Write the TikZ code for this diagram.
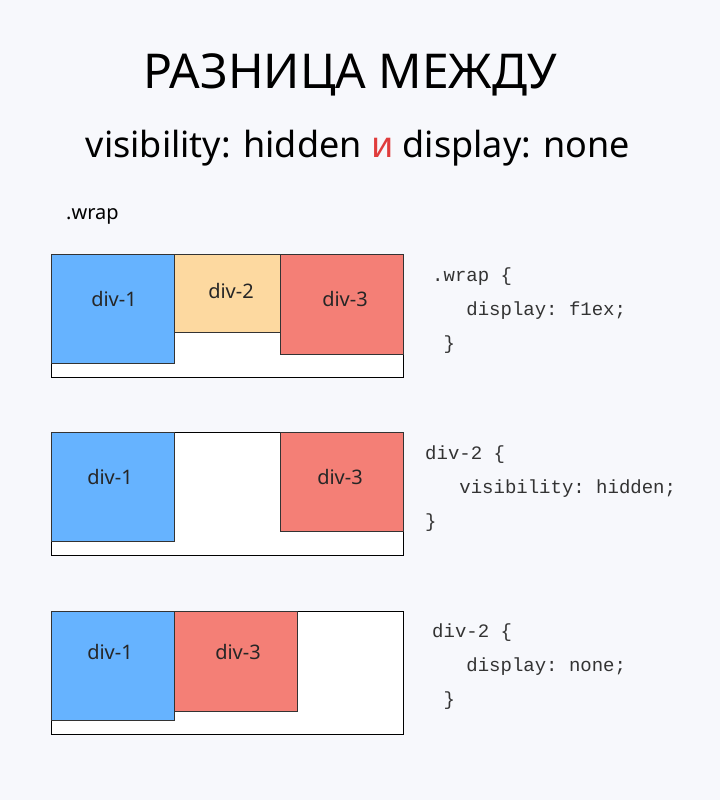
\documentclass[tikz,border=0pt]{standalone}
\usepackage{fontspec}
\setmainfont{Noto Sans}
\setmonofont{Liberation Mono}
\begin{document}
\begin{tikzpicture}[x=1pt,y=-1pt,
  wrapbox/.style={draw=black,line width=1pt,fill=white},
  cell/.style={draw=black!80,line width=0.8pt},
  lbl/.style={font=\fontsize{20}{24}\selectfont,text=black!85},
  code/.style={font=\ttfamily\fontsize{19}{34}\selectfont,align=left,anchor=north west,text=black!80,inner sep=0}]
\definecolor{bg}{HTML}{F7F8FC}
\definecolor{cblue}{HTML}{66B3FF}
\definecolor{cyel}{HTML}{FDD9A0}
\definecolor{cred}{HTML}{F47F76}
\definecolor{tred}{HTML}{E03C3C}
\fill[bg] (0,0) rectangle (720,800);
\useasboundingbox (0,0) rectangle (720,800);
\node (title) at (350,75) {\fontsize{48}{56}\selectfont\bfseries РАЗНИЦА МЕЖДУ};
\node (sub) at (358,148) {\fontsize{36}{42}\selectfont visibility: hidden {\color{tred}\bfseries и} display: none};
\node[anchor=west,inner sep=0,font=\fontsize{20}{24}\selectfont] (wl) at (66,216) {.wrap};
% panel 1
\draw[wrapbox] (51,254) rectangle (403,377);
\draw[cell,fill=cblue] (51,254) rectangle (174,363);
\draw[cell,fill=cyel] (174,254) rectangle (280,332);
\draw[cell,fill=cred] (280,254) rectangle (403,354);
\node[lbl] (a1) at (114,299) {div-1};
\node[lbl] (a2) at (231,291) {div-2};
\node[lbl] (a3) at (345,299) {div-3};
\node[code] (c1) at (432,268) {.wrap \{\\\ \ \ display: f1ex;\\\ \}};
% panel 2
\draw[wrapbox] (51,432) rectangle (403,555);
\draw[cell,fill=cblue] (51,432) rectangle (174,541);
\draw[cell,fill=cred] (280,432) rectangle (403,531);
\node[lbl] (b1) at (110,477) {div-1};
\node[lbl] (b3) at (340,477) {div-3};
\node[code] (c2) at (425,446) {div-2 \{\\\ \ \ visibility: hidden;\\\}};
% panel 3
\draw[wrapbox] (51,611) rectangle (403,734);
\draw[cell,fill=cblue] (51,611) rectangle (174,720);
\draw[cell,fill=cred] (174,611) rectangle (297,711);
\node[lbl] (d1) at (110,652) {div-1};
\node[lbl] (d3) at (238,652) {div-3};
\node[code] (c3) at (432,624) {div-2 \{\\\ \ \ display: none;\\\ \}};
\end{tikzpicture}
\end{document}
